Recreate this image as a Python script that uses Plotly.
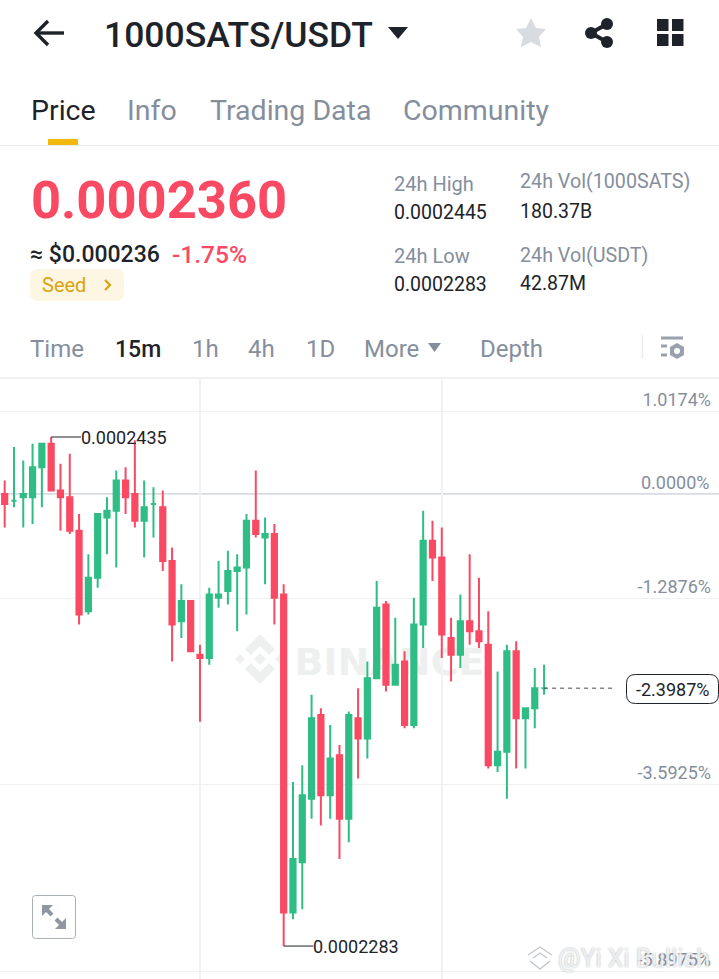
import plotly.graph_objects as go

# Candles, in units of 0.0000001 USDT
candle_index = list(range(59))
opens = [2418,2416,2417,2417,2426,2433,2419,2417,2407,2383,2393,2411,2413,2422,2418,2410,2415,2414,2398,2380,
         2386,2370,2369,2387,2389,2395,2396,2410,2405,2406,2388,2293,2308,2327,2352,2328,2340,2321,2351,2345,
         2363,2385,2361,2368,2349,2379,2404,2399,2375,2370,2380,2377,2373,2337,2341,2371,2351,2354,2360]
highs = [2422,2432,2428,2433,2433,2435,2427,2430,2412,2400,2412,2417,2425,2426,2434,2422,2420,2419,2402,2391,
         2386,2373,2390,2398,2401,2400,2412,2425,2411,2409,2391,2332,2337,2358,2354,2349,2343,2353,2360,2368,
         2392,2386,2381,2371,2387,2413,2410,2408,2381,2388,2400,2393,2383,2365,2373,2374,2354,2366,2367]
lows = [2408,2414,2408,2409,2414,2419,2407,2406,2379,2382,2390,2400,2396,2412,2408,2399,2405,2395,2368,2375,
        2371,2350,2367,2384,2385,2377,2382,2405,2391,2379,2283,2291,2294,2321,2319,2321,2309,2314,2333,2339,
        2363,2359,2361,2348,2348,2372,2392,2369,2362,2366,2373,2372,2336,2335,2327,2336,2336,2348,2358]
closes = [2415,2416,2418,2426,2433,2419,2417,2407,2382,2393,2412,2413,2422,2417,2410,2414,2415,2398,2379,2386,
          2371,2369,2388,2388,2395,2396,2410,2406,2406,2387,2293,2309,2328,2351,2328,2339,2321,2352,2345,2363,
          2384,2361,2367,2349,2379,2404,2399,2376,2370,2380,2377,2374,2337,2341,2371,2351,2354,2360,2360]
reference_price = 2418
last_price = 2360
high_price = 2435
low_price = 2283
tick_percents = [1.0174, -1.2876, -3.5925, -5.8975]
tick_labels = ["1.0174%", "-1.2876%", "-3.5925%", "-5.8975%"]

W, H = 719, 979
GREEN, RED = "#2EBD85", "#FA4A63"
DARK, GRAY = "#1E2329", "#858E9C"
UI = "Roboto"
MARK = "#EEF0F0"

X = lambda px: px / W
Y = lambda py: 1 - py / H

fig = go.Figure(go.Candlestick(
    x=candle_index, open=opens, high=highs, low=lows, close=closes,
    increasing=dict(line=dict(color=GREEN, width=2), fillcolor=GREEN),
    decreasing=dict(line=dict(color=RED, width=2), fillcolor=RED),
    whiskerwidth=0, hoverinfo="skip", showlegend=False,
))

anns, shapes = [], []

def txt(s, x, y, size, color=GRAY, font=UI, anchor="left", weight=400, shadow=None):
    f = dict(size=size, color=color, family=font, weight=weight)
    if shadow:
        f["shadow"] = shadow
    anns.append(dict(text=s, x=X(x), y=Y(y), xref="paper", yref="paper", showarrow=False,
                     xanchor=anchor, yanchor="middle", align=anchor, borderpad=0, borderwidth=0, font=f))

def path(d, fill=None, line=None, width=0, layer="above"):
    px = d.split()
    out, i = [], 0
    while i < len(px):
        t = px[i]
        if t in ("M", "L"):
            out.append(f"{t}{X(float(px[i+1])):.5f},{Y(float(px[i+2])):.5f}")
            i += 3
        elif t == "Q":
            out.append(f"Q{X(float(px[i+1])):.5f},{Y(float(px[i+2])):.5f} {X(float(px[i+3])):.5f},{Y(float(px[i+4])):.5f}")
            i += 5
        else:
            out.append("Z")
            i += 1
    shapes.append(dict(type="path", xref="paper", yref="paper", path=" ".join(out), layer=layer,
                       fillcolor=fill or "rgba(0,0,0,0)",
                       line=dict(color=line or "rgba(0,0,0,0)", width=width)))

def rrect(x0, y0, x1, y1, r, fill=None, line=None, width=0, layer="above"):
    path(f"M {x0+r} {y0} L {x1-r} {y0} Q {x1} {y0} {x1} {y0+r} L {x1} {y1-r} Q {x1} {y1} {x1-r} {y1} "
         f"L {x0+r} {y1} Q {x0} {y1} {x0} {y1-r} L {x0} {y0+r} Q {x0} {y0} {x0+r} {y0} Z",
         fill, line, width, layer)

def circle(cx, cy, r, fill):
    shapes.append(dict(type="circle", xref="paper", yref="paper", x0=X(cx-r), x1=X(cx+r),
                       y0=Y(cy+r), y1=Y(cy-r), fillcolor=fill, line=dict(width=0)))

# Header
path("M 36 33 L 64 33", line=DARK, width=3.4)
path("M 48 21 L 36 33 L 48 45", line=DARK, width=3.4)
txt("1000SATS/USDT", 104, 35, 35.5, DARK, weight=500)
path("M 388 27 L 408 27 L 398 39 Z", fill=DARK)
path("M 531 18 L 536 28 L 546 29 L 539 37 L 541 47 L 531 42 L 521 47 L 523 37 L 516 29 L 526 28 Z", fill="#D8DBE0")
path("M 607 24 L 591 33 L 607 42", line=DARK, width=4)
circle(607, 24, 6, DARK); circle(591, 33, 6, DARK); circle(607, 42, 6, DARK)
for a, b in [(657, 19), (672, 19), (657, 34), (672, 34)]:
    shapes.append(dict(type="rect", xref="paper", yref="paper", x0=X(a), x1=X(a+11.5),
                       y0=Y(b+12), y1=Y(b), fillcolor=DARK, line=dict(width=0)))
txt("Price", 31, 110, 28.5, DARK)
txt("Info", 127, 110, 28.5)
txt("Trading Data", 210, 110, 28.5)
txt("Community", 403, 110, 28.5)
path("M 48 139 L 78 139 L 78 145 L 48 145 Z", fill="#F0B90B")
path("M 0 145.5 L 719 145.5", line="#EAECEF", width=1)

# Price block
txt("0.0002360", 31, 200, 52.5, RED, weight=700)
txt("≈ $0.000236", 30, 254, 23, DARK, weight=500)
txt("-1.75%", 172, 254, 24.5, RED, weight=500)
rrect(30, 269, 124, 301, 8, fill="#FDF6E3")
txt("Seed", 42, 285, 20, "#D9A50E")
path("M 105 280 L 110 285 L 105 290", line="#D9A50E", width=2.2)
txt("24h High", 394, 184, 20)
txt("0.0002445", 394, 212, 19.5, DARK)
txt("24h Vol(1000SATS)", 520, 182, 19.7)
txt("180.37B", 520, 211, 19.5, DARK)
txt("24h Low", 394, 256, 20)
txt("0.0002283", 394, 284, 19.5, DARK)
txt("24h Vol(USDT)", 520, 255, 19.7)
txt("42.87M", 520, 283, 19.5, DARK)

# Interval bar
txt("Time", 30, 349, 24)
txt("15m", 115, 349, 23, DARK, weight=500)
txt("1h", 192, 349, 24)
txt("4h", 248, 349, 24)
txt("1D", 306, 349, 24)
txt("More", 364, 349, 24)
path("M 428 343 L 441 343 L 434.5 352 Z", fill=GRAY)
txt("Depth", 480, 349, 24)
path("M 642.5 335 L 642.5 359", line="#EAECEF", width=1.5)
path("M 661 338 L 683 338", line="#9AA1AC", width=3)
path("M 661 346 L 667 346", line="#9AA1AC", width=3)
path("M 661 355 L 667 355", line="#9AA1AC", width=3)
path("M 677 343 L 684 347 L 684 355 L 677 359 L 670 355 L 670 347 Z", fill="#9AA1AC")
circle(677, 351, 3, "#FFFFFF")
path("M 0 378 L 719 378", line="#EAECEF", width=1.5)

# Watermark behind the candles
for cx, r in [(260, 6), (240, 5), (280, 5)]:
    path(f"M {cx} {659-r} L {cx+r} 659 L {cx} {659+r} L {cx-r} 659 Z", fill=MARK, layer="below")
path("M 260 634 L 275 649 L 269 655 L 260 646 L 251 655 L 245 649 Z", fill=MARK, layer="below")
path("M 260 684 L 275 669 L 269 663 L 260 672 L 251 663 L 245 669 Z", fill=MARK, layer="below")
shapes.append(dict(type="rect", xref="paper", yref="paper", x0=X(293), x1=X(486), y0=Y(678), y1=Y(640),
                   layer="below", line=dict(width=0), fillcolor="rgba(0,0,0,0)",
                   label=dict(text="<b>BINANCE</b>", textposition="middle center",
                              font=dict(size=38, color=MARK, family="DejaVu Sans"))))

# Reference, last-price and extreme markers in data space
shapes.append(dict(type="line", xref="paper", yref="y", x0=0, x1=1, y0=reference_price, y1=reference_price,
                   layer="below", line=dict(color="#BDC1D0", width=1)))
shapes.append(dict(type="line", xref="x", yref="y", x0=58, x1=65.7, y0=last_price, y1=last_price,
                   line=dict(color="#474D57", width=1, dash="4px,4px")))
shapes.append(dict(type="line", xref="x", yref="y", x0=5, x1=8.2, y0=high_price, y1=high_price,
                   line=dict(color=DARK, width=1)))
shapes.append(dict(type="line", xref="x", yref="y", x0=30, x1=33.2, y0=low_price, y1=low_price,
                   line=dict(color=DARK, width=1)))
for label, xv, yv in [("0.0002435", 8.2, high_price), ("0.0002283", 33.2, low_price)]:
    anns.append(dict(text=label, x=xv, y=yv, xref="x", yref="y", showarrow=False, xanchor="left", yanchor="middle",
                     borderpad=0, borderwidth=0, font=dict(size=18, color=DARK, family=UI)))
rrect(626.5, 674.5, 718.5, 703.5, 9, fill="#FFFFFF", line=DARK, width=1)
txt("-2.3987%", 709.5, 689, 18, DARK, UI, "right")
txt("0.0000%", 710, 482, 18, GRAY, UI, "right")

# Expand button
rrect(32.5, 895.5, 75.5, 938.5, 3, fill="#FFFFFF", line="#A9AFB9", width=1)
path("M 42 905 L 53 905 L 42 916 Z", fill="#8F97A3")
path("M 46 909 L 52 915", line="#8F97A3", width=4)
path("M 66 929 L 55 929 L 66 918 Z", fill="#8F97A3")
path("M 56 919 L 62 925", line="#8F97A3", width=4)

# Corner watermark
for d in ["M 528 955 L 540 947 L 552 955", "M 533 958 L 540 953 L 547 958", "M 530 961 L 540 969 L 550 961"]:
    path(d, line="#C4C8CD", width=1.4)
txt("@Yi Xi Bullish", 558, 958, 25, "rgba(255,255,255,0.75)", shadow="0px 0px 2px #8a8f96")

fig.update_layout(
    width=W, height=H, margin=dict(l=0, r=0, t=0, b=0), paper_bgcolor="#FFFFFF", plot_bgcolor="#FFFFFF",
    font=dict(family=UI), showlegend=False, boxgap=0.2, hovermode=False, annotations=anns, shapes=shapes,
    xaxis=dict(range=[-0.502, 76.81], rangeslider=dict(visible=False), tickvals=[21, 47], showticklabels=False,
               gridcolor="#F1F2F4", gridwidth=1.5, zeroline=False, showline=False, ticks="", fixedrange=True),
    yaxis=dict(domain=[0, 600 / H], range=[2273.16, 2452.32], side="right",
               tickvals=[reference_price * (1 + p / 100) for p in tick_percents], ticktext=tick_labels,
               ticklabelposition="inside", ticklabelstandoff=5, ticklabelshift=-12,
               tickfont=dict(size=18, color=GRAY, family=UI),
               gridcolor="#EFF0F2", gridwidth=1, zeroline=False, showline=False, ticks="", fixedrange=True),
)

fig.write_html("out.html", config=dict(displayModeBar=False),
               post_script="document.body.style.margin='0';document.documentElement.style.overflow='hidden';")
